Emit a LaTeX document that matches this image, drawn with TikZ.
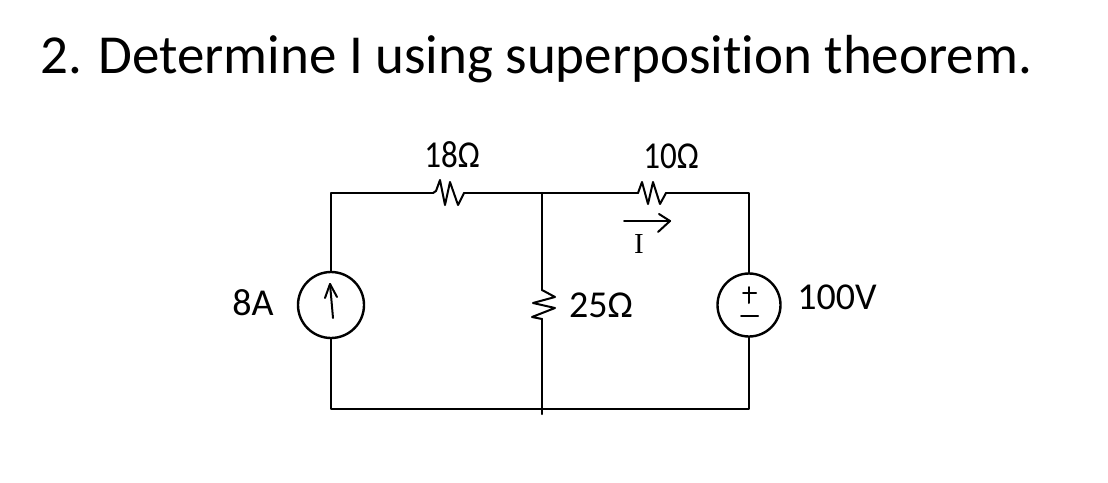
\documentclass[tikz,border=0pt]{standalone}
\usepackage{fontspec}
\setmainfont[Ligatures=NoCommon]{Carlito}
\newfontfamily\serifhand{Liberation Serif}
\tikzset{
	wire/.style={line width=2.4pt, line join=round, line cap=round},
	pen/.style={line width=2pt, line join=round, line cap=round},
	source/.style={draw, circle, line width=2.4pt, inner sep=0pt},
	hand/.style={inner sep=0pt, font=\fontsize{38}{38}\selectfont},
	handtop/.style={hand, transform shape, xscale=0.87},
}

\begin{document}
\begin{tikzpicture}[x=1pt, y=-1pt]
	\useasboundingbox (0,0) rectangle (1108,482);
	\node[anchor=base west, inner sep=0pt, font=\fontsize{55}{56}\selectfont] (title) at (40,73) {2. Determine I using superposition theorem.};

	\node[source, minimum size=66pt] (s8) at (331,305) {};
	\node[source, minimum size=63pt] (s100) at (749,305) {};
	\coordinate (tl) at (331,193);
	\coordinate (tm) at (542,193);
	\coordinate (tr) at (749,193);
	\coordinate (bl) at (331,409);
	\coordinate (bmend) at (542,414);
	\coordinate (br) at (749,409);
	\coordinate (r18a) at (433,193);
	\coordinate (r18b) at (464,193);
	\coordinate (r10a) at (638,193);
	\coordinate (r10b) at (666,193);
	\coordinate (r25a) at (542,290);
	\coordinate (r25b) at (542,319);

	\draw[wire] (s8)--(tl)--(r18a);
	\draw[wire] (r18b)--(tm)--(r10a);
	\draw[wire] (r10b)--(tr)--(s100);
	\draw[wire] (s8)--(bl)--(br)--(s100);
	\draw[wire] (tm)--(r25a);
	\draw[wire] (r25b)--(bmend);

	\draw[pen] (r18a)--++(3,-2)--++(4,-11)--++(5,25)--++(5,-23)--++(8,23)--(r18b);
	\draw[pen] (r10a)--++(4,-11)--++(6,22)--++(5,-22)--++(7,22)--++(6,-11)--(r10b);
	\draw[pen] (r25a)--++(13,7)--++(-22,6)--++(22,5)--++(-23,9)--(r25b);

	\coordinate (i1) at (624,221);
	\coordinate (i2) at (670,221);
	\draw[pen] (i1)--(i2);
	\draw[pen] (659,214)--(i2)--(658,232);

	\coordinate (a8t) at (330,284);
	\coordinate (a8b) at (333,318);
	\draw[pen] (a8b)--(a8t);
	\draw[pen] (325,298)--(a8t)--(337,297);

	\draw[pen] (743,293)--(756,293);
	\draw[pen] (748.5,287)--(748.5,303);
	\draw[pen] (741,316)--(758,316);

	\node[handtop] (l18) at (452,155) {18Ω};
	\node[handtop] (l10) at (671,156) {10Ω};
	\node[inner sep=0pt, font=\serifhand\fontsize{29}{29}\selectfont] (li) at (639,244) {I};
	\node[hand] (l8) at (253,303) {8A};
	\node[hand] (l25) at (601,305) {25Ω};
	\node[hand] (l100) at (837,297) {100V};
\end{tikzpicture}
\end{document}
